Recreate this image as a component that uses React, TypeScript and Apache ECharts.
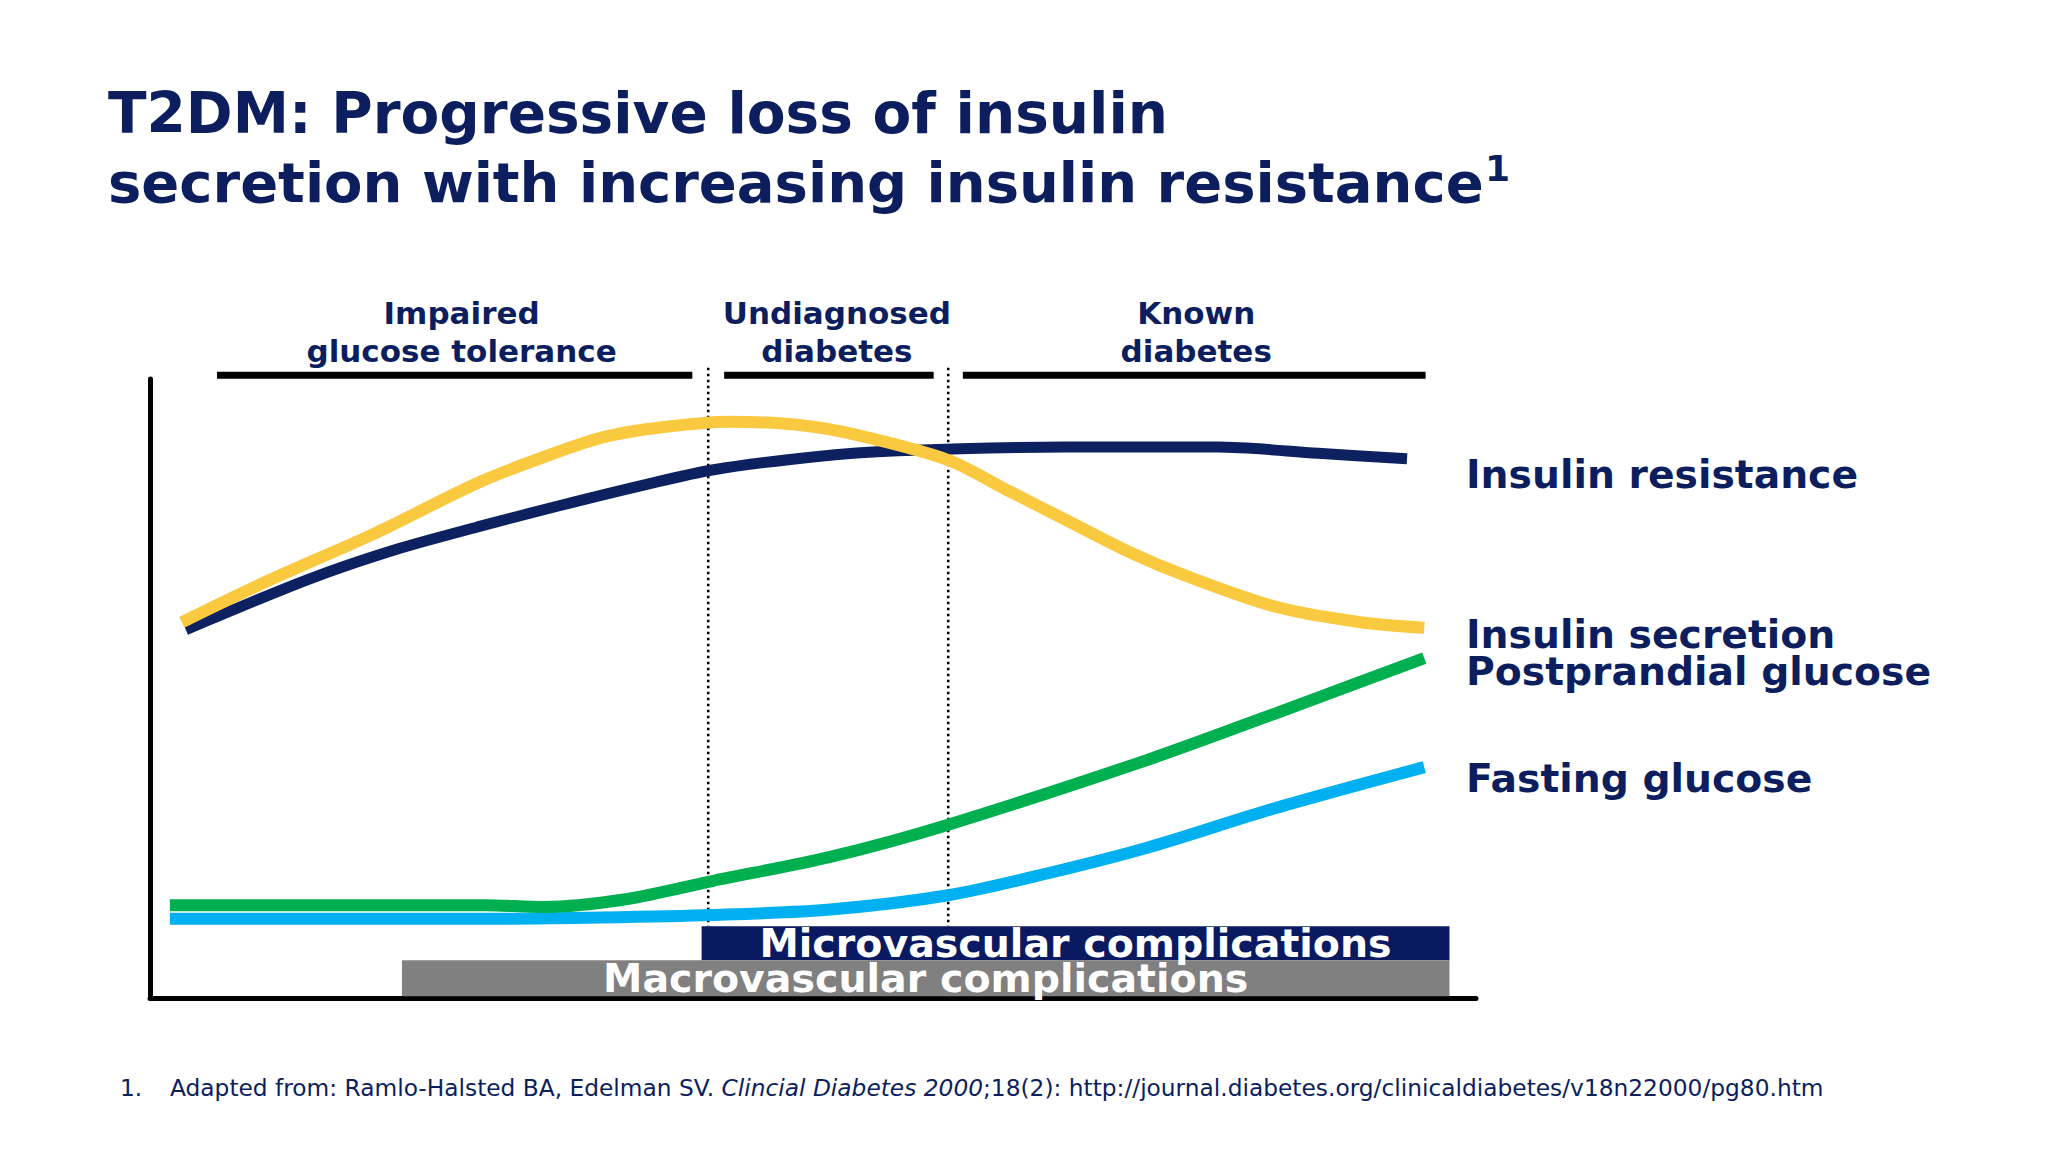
import React, { useEffect, useRef } from "react";
import * as echarts from "echarts";

// ---- data (x: progression 0..100, y: relative level 0..100) ----
const resistanceX = [2.7, 11.9, 18.3, 24.7, 31.0, 37.3, 42.4, 50.0, 56.4, 69.1, 80.5, 88.1, 94.8];
const resistanceY = [59.5, 67.6, 72.3, 76.1, 79.6, 82.9, 85.3, 87.4, 88.4, 89.0, 89.0, 88.0, 87.1];

const secretionX = [2.4, 8.7, 17.0, 24.7, 29.7, 34.2, 38.6, 43.7, 48.8, 53.2, 60.2, 64.6, 69.1, 74.1, 78.0, 84.9, 91.3, 96.1];
const secretionY = [60.7, 67.2, 75.1, 83.2, 87.4, 90.6, 92.2, 93.1, 92.6, 91.0, 86.9, 82.1, 77.2, 71.8, 68.3, 63.2, 60.7, 59.8];

const postprandialX = [1.5, 13.0, 25.3, 29.7, 36.0, 42.4, 51.3, 60.2, 75.4, 84.9, 96.1];
const postprandialY = [15.0, 15.0, 15.0, 14.7, 16.0, 18.9, 22.8, 28.0, 38.6, 46.0, 54.9];

const fastingX = [1.5, 13.0, 25.3, 34.0, 42.4, 51.3, 60.2, 67.8, 75.4, 84.9, 96.1];
const fastingY = [12.8, 12.8, 12.8, 13.0, 13.4, 14.3, 16.6, 20.2, 24.4, 30.7, 37.3];

const phaseNames = ["Impaired\nglucose tolerance", "Undiagnosed\ndiabetes", "Known\ndiabetes"];
const phaseStart = [5.05, 43.3, 61.3];
const phaseEnd = [40.9, 59.1, 96.2];
const phaseLabelX = [23.5, 51.8, 78.9];
const phaseBarY = 100.6;
const phaseLabelY = 107.6;

const dividerX = [42.1, 60.2];
const dividerTop = 101.8;

const complicationNames = ["Microvascular complications", "Macrovascular complications"];
const complicationStart = [41.6, 19.0];
const complicationEnd = [98.0, 98.0];
const complicationTop = [11.6, 6.1];
const complicationBottom = [6.1, 0.3];

const seriesNames = ["Insulin resistance", "Insulin secretion", "Postprandial glucose", "Fasting glucose"];

const NAVY = "#0c1e5e";
const FONT = "DejaVu Sans";

function pairs(xs: number[], ys: number[]) {
  return xs.map((x, i) => [x, ys[i]]);
}

export default function App() {
  const ref = useRef<HTMLDivElement>(null);
  useEffect(() => {
    document.body.style.margin = "0";
    const chart = echarts.init(ref.current!, undefined, { renderer: "svg" });
    const lineBase = {
      type: "line" as const,
      showSymbol: false,
      symbol: "none",
      smooth: 0.3,
      clip: false,
      silent: true,
    };
    chart.setOption({
      animation: false,
      backgroundColor: "#ffffff",
      grid: { left: 150, top: 379, width: 1326, height: 619, containLabel: false },
      xAxis: {
        type: "value",
        min: 0,
        max: 100,
        axisLine: { show: true, onZero: false, lineStyle: { color: "#000", width: 5 } },
        axisTick: { show: false },
        axisLabel: { show: false },
        splitLine: { show: false },
      },
      yAxis: {
        type: "value",
        min: 0,
        max: 100,
        axisLine: { show: true, onZero: false, lineStyle: { color: "#000", width: 5 } },
        axisTick: { show: false },
        axisLabel: { show: false },
        splitLine: { show: false },
      },
      series: [
        ...phaseStart.map((s, i) => ({
          ...lineBase,
          smooth: false,
          name: "phase" + i,
          data: [
            [s, phaseBarY],
            [phaseEnd[i], phaseBarY],
          ],
          lineStyle: { color: "#000", width: 7, cap: "butt" },
        })),
        ...dividerX.map((x, i) => ({
          ...lineBase,
          smooth: false,
          name: "divider" + i,
          data: [
            [x, dividerTop],
            [x, complicationTop[0]],
          ],
          lineStyle: { color: "#000", width: 2.5, type: [2.5, 3.5] },
        })),
        {
          ...lineBase,
          name: seriesNames[3],
          data: pairs(fastingX, fastingY),
          lineStyle: { color: "#00b0f0", width: 12 },
        },
        {
          ...lineBase,
          name: seriesNames[2],
          data: pairs(postprandialX, postprandialY),
          lineStyle: { color: "#00b050", width: 12 },
        },
        {
          ...lineBase,
          name: seriesNames[0],
          data: pairs(resistanceX, resistanceY),
          lineStyle: { color: "#0d2160", width: 11 },
        },
        {
          ...lineBase,
          name: seriesNames[1],
          data: pairs(secretionX, secretionY),
          lineStyle: { color: "#f9c940", width: 12 },
        },
        {
          name: "complications",
          type: "line",
          z: 5,
          data: [[50, 50]],
          showSymbol: false,
          symbol: "none",
          lineStyle: { width: 0 },
          silent: true,
          markArea: {
            silent: true,
            data: complicationNames.map((n, i) => [
              {
                name: n,
                coord: [complicationStart[i], complicationTop[i]],
                itemStyle: { color: i === 0 ? "#0a1a60" : "#808080" },
              },
              { coord: [complicationEnd[i], complicationBottom[i]] },
            ]),
            label: {
              show: true,
              position: "inside",
              color: "#ffffff",
              fontSize: 39.5,
              fontWeight: "bold",
              fontFamily: FONT,
            },
          },
        },
        {
          name: "phaseLabels",
          type: "scatter",
          symbolSize: 0,
          clip: false,
          silent: true,
          itemStyle: { opacity: 1 },
          data: phaseNames.map((n, i) => ({ name: n, value: [phaseLabelX[i], phaseLabelY] })),
          label: {
            show: true,
            position: "inside",
            formatter: "{b}",
            color: NAVY,
            opacity: 1,
            fontSize: 31,
            fontWeight: "bold",
            fontFamily: FONT,
            lineHeight: 38,
            align: "center",
            verticalAlign: "middle",
          },
        },
      ],
      graphic: [
        {
          type: "text",
          x: 108,
          y: 113,
          style: {
            text: "T2DM: Progressive loss of insulin",
            fill: NAVY,
            fontSize: 56.5,
            fontWeight: "bold",
            fontFamily: FONT,
            verticalAlign: "middle",
            align: "left",
          },
        },
        {
          type: "text",
          x: 108,
          y: 182,
          style: {
            text: "{m|secretion with increasing insulin resistance}{g| }{s|1}",
            fill: NAVY,
            verticalAlign: "middle",
            align: "left",
            rich: {
              m: { fontSize: 56, fontWeight: "bold", fontFamily: FONT, fill: NAVY, lineHeight: 64 },
              g: { fontSize: 4, fontFamily: FONT, lineHeight: 64 },
              s: { fontSize: 36, fontWeight: "bold", fontFamily: FONT, fill: NAVY, verticalAlign: "top", lineHeight: 42 },
            },
          },
        },
        ...[
          { t: seriesNames[0], y: 474 },
          { t: seriesNames[1], y: 634 },
          { t: seriesNames[2], y: 671 },
          { t: seriesNames[3], y: 778 },
        ].map((o) => ({
          type: "text",
          x: 1466,
          y: o.y,
          style: {
            text: o.t,
            fill: NAVY,
            fontSize: 39.3,
            fontWeight: "bold",
            fontFamily: FONT,
            verticalAlign: "middle",
            align: "left",
          },
        })),
        {
          type: "text",
          x: 120,
          y: 1087,
          style: { text: "1.", fill: NAVY, fontSize: 23.3, fontFamily: FONT, verticalAlign: "middle", align: "left" },
        },
        {
          type: "text",
          x: 170,
          y: 1087,
          style: {
            text:
              "{r|Adapted from: Ramlo-Halsted BA, Edelman SV. }{i|Clincial Diabetes 2000}{r|;18(2): http://journal.diabetes.org/clinicaldiabetes/v18n22000/pg80.htm}",
            fill: NAVY,
            verticalAlign: "middle",
            align: "left",
            rich: {
              r: { fontSize: 23.3, fontFamily: FONT, fill: NAVY },
              i: { fontSize: 23.3, fontFamily: FONT, fill: NAVY, fontStyle: "italic" },
            },
          },
        },
      ],
    });
    return () => chart.dispose();
  }, []);
  return (
    <div
      ref={ref}
      style={{ position: "absolute", left: 0, top: 0, width: 2048, height: 1152, background: "#fff" }}
    />
  );
}
